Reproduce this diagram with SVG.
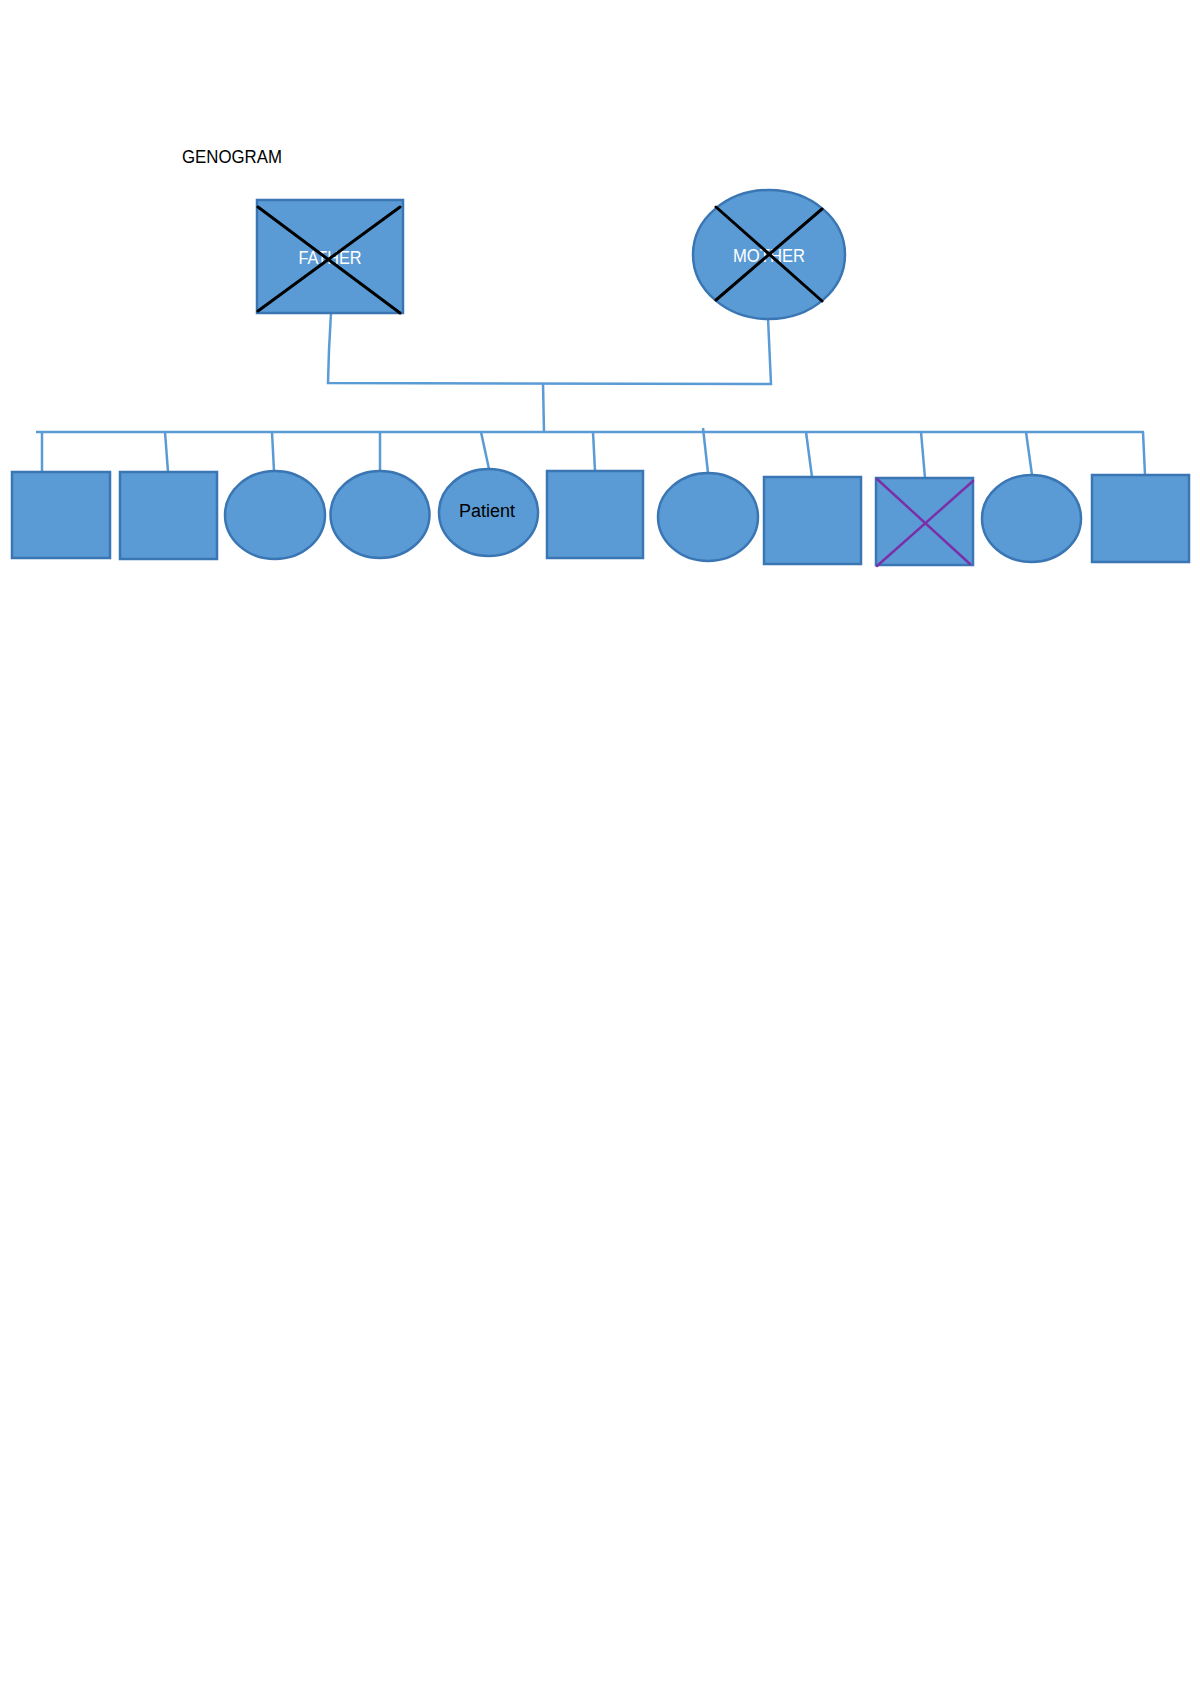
<svg xmlns="http://www.w3.org/2000/svg" width="1200" height="1696" viewBox="0 0 1200 1696">
<style>
.node{fill:#5B9BD5;stroke:#3A76B3;stroke-width:2.5}
.conn{fill:none;stroke:#5B9BD5;stroke-width:2.5;stroke-linejoin:miter}
.xblk{stroke:#000;stroke-width:3;stroke-linecap:round}
.xpur{stroke:#7B2FA8;stroke-width:2.5;stroke-linecap:round}
.lbl{font-family:"Liberation Sans","Open Sans",Arial,sans-serif;font-size:18px}
</style>
<rect width="1200" height="1696" fill="#fff"/>
<text class="lbl" x="182" y="163" fill="#000" textLength="100" lengthAdjust="spacingAndGlyphs">GENOGRAM</text>
<g id="connectors">
<polyline class="conn" points="331,313 329,350 328,383 771,384 768,318"/>
<polyline class="conn" points="543,383 544,432"/>
<polyline class="conn" points="36,432 1144,432"/>
<line class="conn" x1="42" y1="432" x2="42" y2="472"/>
<line class="conn" x1="165" y1="432" x2="168" y2="472"/>
<line class="conn" x1="272" y1="432" x2="274" y2="471"/>
<line class="conn" x1="380" y1="432" x2="380" y2="471"/>
<line class="conn" x1="481" y1="432" x2="489" y2="469"/>
<line class="conn" x1="593" y1="432" x2="595" y2="471"/>
<line class="conn" x1="703" y1="428" x2="708" y2="473"/>
<line class="conn" x1="806" y1="432" x2="812" y2="477"/>
<line class="conn" x1="921" y1="432" x2="925" y2="478"/>
<line class="conn" x1="1026" y1="432" x2="1032" y2="475"/>
<line class="conn" x1="1143" y1="432" x2="1145" y2="475"/>
</g>
<g id="father">
<rect class="node" x="257" y="200" width="146" height="113"/>
<text class="lbl" x="330" y="264" fill="#fff" text-anchor="middle" textLength="63" lengthAdjust="spacingAndGlyphs">FATHER</text>
<line class="xblk" x1="258" y1="207" x2="400" y2="313"/>
<line class="xblk" x1="258" y1="311" x2="400" y2="207"/>
</g>
<g id="mother">
<ellipse class="node" cx="769" cy="254.5" rx="76" ry="64.5"/>
<text class="lbl" x="769" y="262" fill="#fff" text-anchor="middle" textLength="72" lengthAdjust="spacingAndGlyphs">MOTHER</text>
<line class="xblk" x1="716" y1="207" x2="822" y2="301"/>
<line class="xblk" x1="716" y1="300" x2="822" y2="209"/>
</g>
<g id="child1"><rect class="node" x="12" y="472" width="98" height="86"/></g>
<g id="child2"><rect class="node" x="120" y="472" width="97" height="87"/></g>
<g id="child3"><ellipse class="node" cx="275" cy="515" rx="50" ry="44"/></g>
<g id="child4"><ellipse class="node" cx="380" cy="514.5" rx="49.5" ry="43.5"/></g>
<g id="patient"><ellipse class="node" cx="488.5" cy="512.5" rx="49.5" ry="43.5"/>
<text class="lbl" x="487" y="517" fill="#000" text-anchor="middle" textLength="56" lengthAdjust="spacingAndGlyphs">Patient</text></g>
<g id="child6"><rect class="node" x="547" y="471" width="96" height="87"/></g>
<g id="child7"><ellipse class="node" cx="708" cy="517" rx="50" ry="44"/></g>
<g id="child8"><rect class="node" x="764" y="477" width="97" height="87"/></g>
<g id="child9"><rect class="node" x="876" y="478" width="97" height="87"/>
<line class="xpur" x1="877" y1="479" x2="970" y2="564"/>
<line class="xpur" x1="877" y1="566" x2="973" y2="481"/></g>
<g id="child10"><ellipse class="node" cx="1031.5" cy="518.5" rx="49.5" ry="43.5"/></g>
<g id="child11"><rect class="node" x="1092" y="475" width="97" height="87"/></g>
</svg>
